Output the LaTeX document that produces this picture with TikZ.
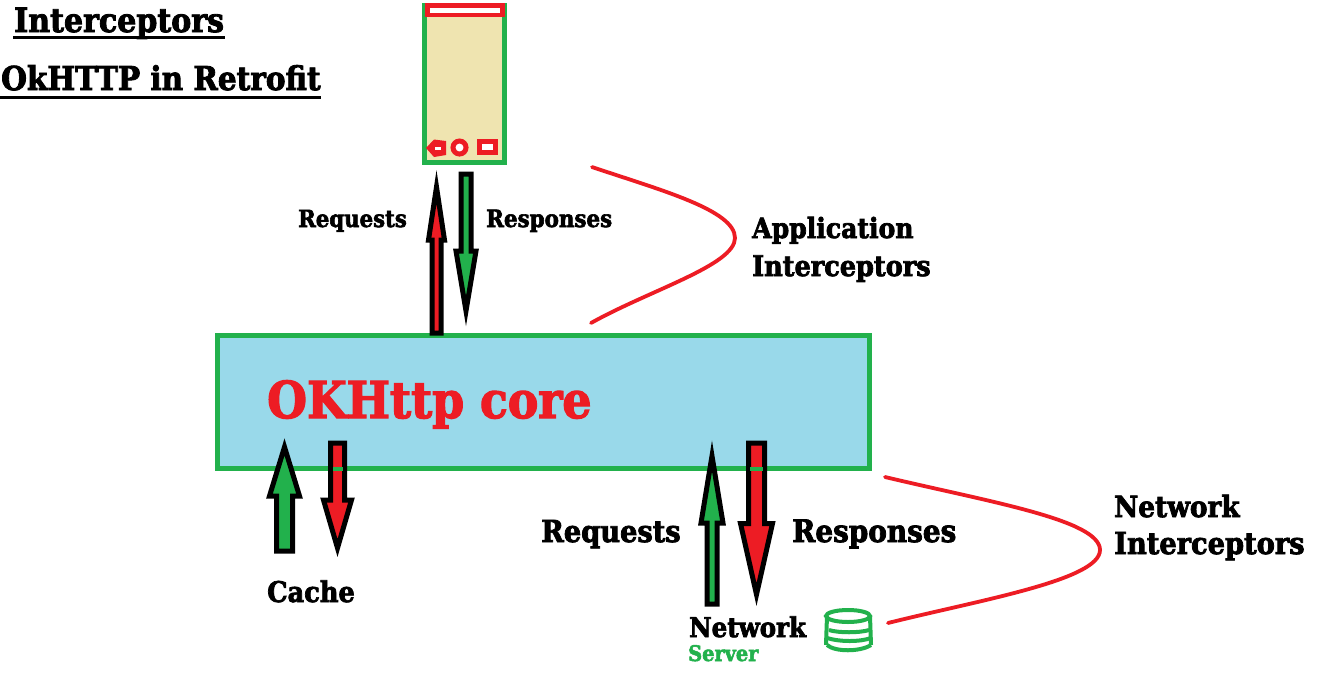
\documentclass[tikz,border=0pt]{standalone}
\usepackage{fontspec}
\setmainfont{DejaVu Serif Condensed Bold}[FakeBold=2.5]
\usetikzlibrary{calc}
\definecolor{grn}{HTML}{22B14C}
\definecolor{rd}{HTML}{ED1C24}
\definecolor{sky}{HTML}{99D9EA}
\definecolor{sand}{HTML}{EFE4B0}
\tikzset{
  boxst/.style={draw=grn,line width=5pt,fill=sky,minimum width=652pt,minimum height=133pt,inner sep=0pt},
  phonest/.style={draw=grn,line width=5pt,fill=sand,minimum width=80pt,minimum height=157pt,inner sep=0pt},
  lblb/.style={font=\fontsize{#1}{#1}\selectfont,inner sep=0pt,anchor=base west,text=black},
  bracket/.style={draw=rd,line width=3.8pt,line cap=round},
  blockst/.style={draw=black,line width=5pt,line join=miter,miter limit=12},
  ul/.style={draw=black,line width=3pt},
}
% tail, tip, shaft half width, head half width, head length, fill
\newcommand{\blockarrow}[6]{%
  \filldraw[blockst,fill=#6]
    ($(#1)+(-#3,0)$) -- ($(#2)!#5pt!(#1)+(-#3,0)$) -- ($(#2)!#5pt!(#1)+(-#4,0)$) -- (#2)
    -- ($(#2)!#5pt!(#1)+(#4,0)$) -- ($(#2)!#5pt!(#1)+(#3,0)$) -- ($(#1)+(#3,0)$) -- cycle;
}
\begin{document}
\begin{tikzpicture}[x=1pt,y=-1pt]
\useasboundingbox (0,0) rectangle (1326,673);
\fill[white] (0,0) rectangle (1326,673);

% titles
\node[lblb=33.4] (t1) at (14,32) {Interceptors};
\draw[ul] (13,37.5) -- (225,37.5);
\node[lblb=32.8] (t2) at (1,90) {OkHTTP in Retrofit};
\draw[ul] (0,97) -- (321,97);

% phone
\node[phonest] (phone) at (464.5,84) {};
\fill[rd] (425,3) rectangle (505,17);
\fill[white] (430,7.5) rectangle (500,12.5);
\fill[rd] (426,148) -- (434,139.5) -- (446,141) -- (446,155) -- (434,157) -- cycle;
\fill[white] (435,147) rectangle (441,149.5);
\node[circle,draw=rd,line width=5pt,fill=white,minimum size=13pt,inner sep=0pt] (homeb) at (459.5,147.5) {};
\fill[rd] (477,139) rectangle (498,155);
\fill[white] (482,144) rectangle (493,150);

% core
\node[boxst] (core) at (543,401.5) {};
\node[lblb=50.8,text=rd] (corel) at (267,418) {OKHttp core};

% coordinates
\coordinate (a1t) at (436.5,333);  \coordinate (a1h) at (436.5,187);
\coordinate (a2t) at (466,174);    \coordinate (a2h) at (466,311);
\coordinate (a3t) at (284.5,551);  \coordinate (a3h) at (284.5,447);
\coordinate (a4t) at (337.5,443);  \coordinate (a4h) at (337.5,548);
\coordinate (a5t) at (712,604);    \coordinate (a5h) at (712,456);
\coordinate (a6t) at (756.5,443);  \coordinate (a6h) at (756.5,594.5);

\blockarrow{a1t}{a1h}{4.5}{8}{53}{rd}
\blockarrow{a2t}{a2h}{5}{10}{60}{grn}
\blockarrow{a3t}{a3h}{8}{15}{49}{grn}
\blockarrow{a4t}{a4h}{7}{14}{48}{rd}
\blockarrow{a5t}{a5h}{5}{11}{67}{grn}
\blockarrow{a6t}{a6h}{8}{16}{71}{rd}
\fill[grn] (332.5,467) rectangle (342.5,471);
\fill[grn] (750,467) rectangle (763,471);

% labels
\node[lblb=23.6] (req1) at (298,227) {Requests};
\node[lblb=23.8] (res1) at (486,227) {Responses};
\node[lblb=30.3] (req2) at (541,542) {Requests};
\node[lblb=31] (res2) at (792,542) {Responses};
\node[lblb=28.5] (cache) at (267,602) {Cache};
\node[lblb=27.3] (net) at (689,637) {Network};
\node[lblb=21.5,text=grn] (srv) at (688,661) {Server};
\node[lblb=27.9] (ai1) at (752,238) {Application};
\node[lblb=28.4] (ai2) at (752,276) {Interceptors};
\node[lblb=29.3] (ni1) at (1114,517) {Network};
\node[lblb=30.3] (ni2) at (1114,554) {Interceptors};

% brackets
\coordinate (b1a) at (592,167); \coordinate (b1m) at (735,238); \coordinate (b1b) at (591,323);
\coordinate (b2a) at (885,477); \coordinate (b2m) at (1100,550); \coordinate (b2b) at (888,623);
\draw[bracket] (b1a) .. controls (660,190) and (735,210) .. (b1m) .. controls (735,265) and (650,290) .. (b1b);
\draw[bracket] (b2a) .. controls (990,502) and (1100,520) .. (b2m) .. controls (1100,580) and (980,600) .. (b2b);

% server icon
\begin{scope}[draw=grn,line width=4pt]
\draw (848,616) ellipse [x radius=22,y radius=6];
\draw (827,616) -- (826,645);
\draw (870,616) -- (871,645);
\draw (829,630) .. controls (838,633) and (860,633) .. (869,630);
\draw (827,638) .. controls (840,642) and (860,642) .. (871,638);
\draw (827,645) .. controls (835,652) and (860,652) .. (871,645);
\end{scope}
\end{tikzpicture}
\end{document}
